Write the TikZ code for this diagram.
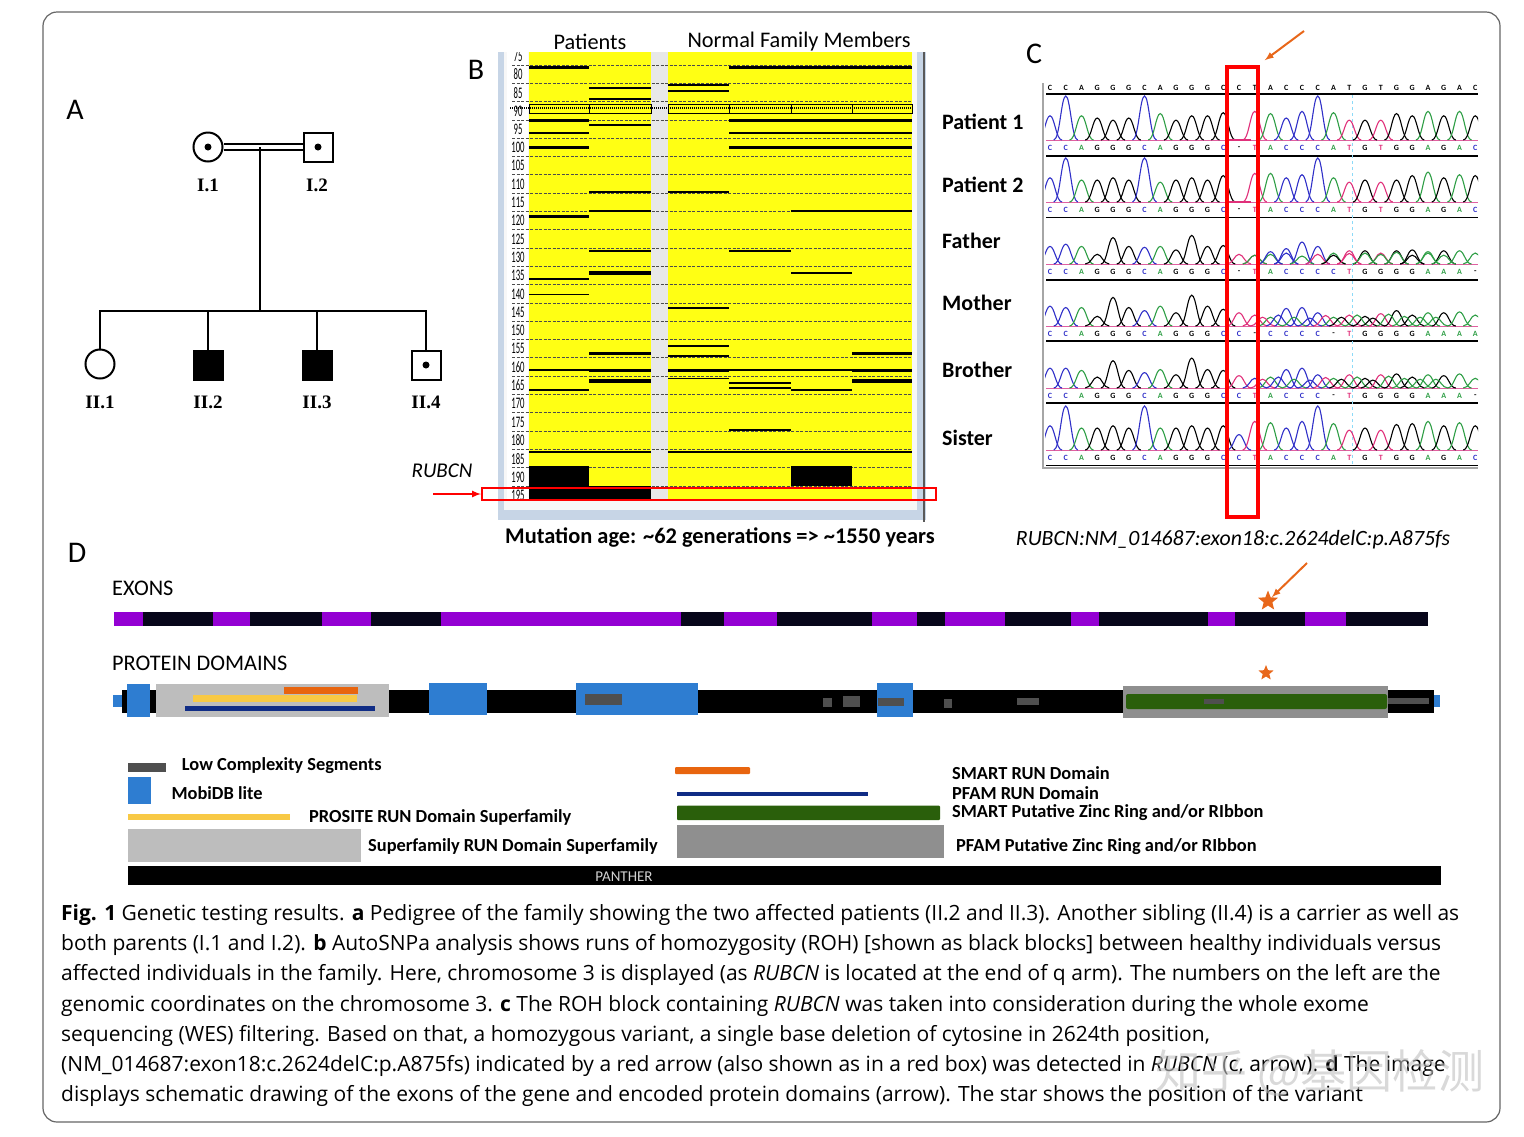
\documentclass[tikz,border=0pt]{standalone}
\usepackage{fontspec}
\setmainfont{Open Sans}
\newfontfamily\calfont{Carlito}
\newfontfamily\pedfont{Liberation Serif}
\newfontfamily\cjkfont{Noto Sans CJK SC}
\usetikzlibrary{shapes.geometric}

\definecolor{exonpurple}{HTML}{9400D3}
\definecolor{exondark}{HTML}{07061A}
\definecolor{mobiblue}{HTML}{2E7DD1}
\definecolor{superlight}{HTML}{BDBDBD}
\definecolor{pfamgray}{HTML}{8F8F8F}
\definecolor{zincgreen}{HTML}{2A5F0B}
\definecolor{lowgray}{HTML}{4F4F4F}
\definecolor{prositeyellow}{HTML}{F8C945}
\definecolor{pfamnavy}{HTML}{102C85}
\definecolor{smartorange}{HTML}{E8650F}
\definecolor{starorange}{HTML}{E8671A}
\definecolor{rohyellow}{HTML}{FFFF14}
\definecolor{frameblue}{HTML}{C7D5E6}
\definecolor{traceC}{HTML}{3030C8}
\definecolor{traceA}{HTML}{2E9E45}
\definecolor{traceT}{HTML}{E0307A}
\definecolor{tracebase}{HTML}{E060A0}

% coloured base letters of the chromatogram
\newcommand{\bsC}{\textcolor{traceC}{C}}
\newcommand{\bsA}{\textcolor{traceA}{A}}
\newcommand{\bsG}{\textcolor{black}{G}}
\newcommand{\bsT}{\textcolor{traceT}{T}}
\expandafter\newcommand\csname bs-\endcsname{-}

% one chromatogram trace: baseline, first x, list of base/height
\newcommand{\peaks}[3]{%
  \foreach \b/\h [count=\i from 0] in {#3} {
    \pgfmathsetmacro{\px}{#2+\i*15.75}
    \pgfmathsetmacro{\py}{#1-\h*44}
    \draw[trace,t\b] (\px-12,#1) .. controls (\px-6,#1) and (\px-4.5,\py) .. (\px,\py)
      .. controls (\px+4.5,\py) and (\px+6,#1) .. (\px+12,#1);
  }}
% one row of called bases: y, name prefix, list
\newcommand{\bases}[3]{%
  \foreach \b [count=\i from 0] in {#3}
    \node[base] (#2\i) at ({1050+\i*15.75},#1) {\csname bs\b\endcsname};}

\begin{document}
\begin{tikzpicture}[x=1pt, y=-1pt,
  person/.style={draw, line width=2pt, minimum size=29pt, inner sep=0pt},
  female/.style={person, circle},
  male/.style={person, rectangle},
  affected/.style={fill=black},
  pedlabel/.style={font=\pedfont\bfseries\fontsize{19}{19}\selectfont},
  panel/.style={font=\calfont\fontsize{30}{30}\selectfont},
  head/.style={font=\calfont\fontsize{22.3}{22.3}\selectfont},
  who/.style={anchor=west, inner sep=0pt, font=\calfont\bfseries\fontsize{22}{22}\selectfont},
  ytick/.style={inner sep=0pt, font=\calfont\fontsize{14}{14}\selectfont},
  base/.style={inner sep=0pt, font=\calfont\bfseries\fontsize{8}{8}\selectfont},
  trace/.style={line width=1.1pt},
  tC/.style={draw=traceC}, tA/.style={draw=traceA},
  tG/.style={draw=black}, tT/.style={draw=traceT},
  legend/.style={anchor=west, inner sep=0pt, font=\calfont\bfseries\fontsize{18.4}{18.4}\selectfont},
  capline/.style={anchor=base west, inner sep=0pt, font=\fontsize{21}{24}\selectfont}]
\useasboundingbox (0,0) rectangle (1524,1136);
\draw[rounded corners=14pt, gray!80!black, line width=1.2pt] (43,12) rectangle (1500,1122);

% ---- A: pedigree
\node[panel] (pA) at (75,110) {A};
\node[female] (i1) at (208,147) {};
\node[male] (i2) at (318,147) {};
\fill (i1) circle (3.5); \fill (i2) circle (3.5);
\draw[line width=2pt, double, double distance=3.5pt] (i1) -- (i2);
\coordinate (mate) at (260,147);
\coordinate (sib) at (260,311);
\draw[line width=2pt] (mate) -- (sib);
\node[female] (ii1) at (100,364) {};
\node[male, affected] (ii2) at (208,365) {};
\node[male, affected] (ii3) at (317,365) {};
\node[male] (ii4) at (426,365) {};
\fill (ii4) circle (3.5);
\foreach \c in {ii1,ii2,ii3,ii4}
  \draw[line width=2pt] (sib) -| (\c);
\foreach \c/\t/\x/\y in {i1/I.1/208/185, i2/I.2/317/185, ii1/II.1/100/402,
    ii2/II.2/208/402, ii3/II.3/317/402, ii4/II.4/426/402}
  \node[pedlabel] (lab-\c) at (\x,\y) {\t};

% ---- B: runs of homozygosity
\node[panel] (pB) at (476,70) {B};
\node[head] (hpat) at (590,42) {Patients};
\node[head] (hnorm) at (799,42) {Normal Family Members};
\begin{scope}
  \clip (498,52) rectangle (940,525);
  \fill[frameblue] (498,52) rectangle (926,520);
  \fill[gray!6] (504,52) rectangle (917,510);
  \fill[white] (507,52) rectangle (528,501);
  \fill[rohyellow] (529,52) rectangle (651,501);
  \fill[gray!18] (651,52) rectangle (668,501);
  \fill[rohyellow] (668,52) rectangle (912,501);
  \foreach \n [count=\k from 0] in {75,80,...,195}
    \node[ytick] (num\n) at (518,{56+18.3*\k}) {\scalebox{.62}[1.15]{\n}};
  \foreach \k in {0,...,23}
    \draw[gray!60!black, line width=.7pt, dash pattern=on 3pt off 1.5pt]
      (512,{65+18.3*\k}) -- (912,{65+18.3*\k});
  \foreach \a/\b in {529/589,589/651,668/729,729/791,791/852,852/912}
    \draw[line width=1pt] (\a,113) rectangle (\b,104);
  \draw[line width=2pt, dash pattern=on 1pt off 1pt] (510,108) -- (912,108);
  \foreach \a/\b/\y/\w in {529/589/67.6/3, 729/912/67.6/3, 589/651/88/2,
      589/651/99/2.5, 668/729/85/2, 668/729/91/2, 529/589/120/3, 729/912/120/3,
      589/651/125/2, 529/589/133/1.5, 729/912/133/1.5, 529/589/147/3,
      729/912/147/3, 589/651/192/2.5, 668/729/192/2.5, 589/651/211/1.5,
      791/912/211/1.5, 529/589/216.5/3.5, 589/651/251/2.5, 729/791/251/2.5,
      589/651/273/3.5, 791/852/273/1.5, 529/589/279/1.5, 529/589/294.5/1.5,
      668/729/308/1.5, 668/729/346/1.5, 668/729/356/1.5, 589/651/353/3,
      852/912/353/3, 529/589/370/1.5, 589/651/370/3, 668/729/370/3,
      729/852/370/1.5, 852/912/370/3, 668/729/378.6/1.5, 589/651/381/3.5,
      852/912/381/3.5, 729/791/383/1.5, 729/791/388/1.5, 529/589/390/1.5,
      791/852/390/1.5, 729/791/430/1.5, 529/651/452/1.5, 668/912/452/1.5}
    \draw[line width=\w pt] (\a,\y) -- (\b,\y);
  \fill (529,466) rectangle (589,501);
  \fill (589,486) rectangle (651,501);
  \fill (791,466) rectangle (852,486);
  \draw[gray!70!black, line width=1.2pt] (924,52) -- (924,522);
\end{scope}
\node[draw=red, line width=2pt, minimum width=454pt, minimum height=12pt,
  inner sep=0pt] (rohbox) at (709,494) {};
\node[font=\calfont\itshape\fontsize{21}{21}\selectfont] (rubcn) at (442,471) {RUBCN};
\coordinate (rubtail) at (433,494);
\draw[red, line width=2pt, -latex] (rubtail) -- (rohbox.west);
\node[font=\calfont\bfseries\fontsize{22.4}{22.4}\selectfont] (mutage) at (720,538)
  {Mutation age: \textasciitilde62 generations => \textasciitilde1550 years};

% ---- C: chromatograms
\node[panel] (pC) at (1034,54) {C};
\foreach \t/\y [count=\k] in {Patient 1/122, Patient 2/185, Father/241,
    Mother/303, Brother/370, Sister/438}
  \node[who] (who\k) at (942,\y) {\t};
\draw[gray!70, line width=2pt] (1043,83) |- (1478,468);
\foreach \y in {94,156,217.7,280,341,403,465.5}
  \draw[line width=1.5pt] (1046,\y) -- (1478,\y);
\foreach \y in {140,202,264,326,388,450}
  \draw[tracebase, line width=1pt] (1046,\y) -- (1478,\y);
\draw[cyan!45, dashed, line width=.8pt] (1352.5,95) -- (1352.5,465);
\begin{scope}
  \clip (1045,80) rectangle (1478,470);
  \peaks{140}{1050}{C/.55,C/1,A/.55,G/.5,G/.45,G/.5,C/1,A/.6,G/.45,G/.55,G/.55,G/.62,T/0,T/.65,A/.6,C/.5,C/.65,C/1,A/.62,T/.45,G/.45,T/.45,G/.6,G/.55,A/.65,G/.55,A/.65,G/.55}
  \peaks{202}{1050}{C/.55,C/1,A/.5,G/.5,G/.55,G/.5,C/1,A/.45,G/.5,G/.55,G/.5,G/.6,T/0,T/.65,A/.65,C/.55,C/.62,C/1,A/.55,T/.45,G/.5,T/.45,G/.5,G/.6,A/.68,G/.55,A/.62,G/.6}
  \peaks{264}{1050}{C/.4,C/.45,A/.4,G/.22,G/.6,G/.4,C/.38,A/.4,G/.32,G/.65,G/.4,G/.42,T/.22,T/.2,A/.22,C/.35,C/.5,C/.4,A/.25,T/.3,G/.3,T/.25,G/.3,G/.32,A/.28,G/.3,A/.3,A/.25}
  \peaks{264}{1254.75}{A/.2,C/.28,C/.25,A/.18,T/.22,G/.2,T/.24,A/.25,A/.22,A/.27,G/.2,A/.25,A/.2}
  \peaks{326}{1050}{C/.45,C/.42,A/.42,G/.22,G/.65,G/.42,C/.35,A/.45,G/.3,G/.7,G/.45,G/.38,T/.3,T/.25,A/.2,C/.4,C/.42,C/.3,A/.2,T/.25,G/.22,T/.28,G/.35,G/.25,A/.3,G/.3,A/.32,A/.25}
  \peaks{326}{1262.6}{T/.2,C/.25,A/.2,C/.18,T/.24,G/.2,A/.25,G/.18,A/.27,A/.22,A/.2,A/.2}
  \peaks{388}{1050}{C/.45,C/.45,A/.4,G/.25,G/.62,G/.4,C/.35,A/.42,G/.3,G/.68,G/.42,G/.4,T/.28,C/.22,A/.25,C/.42,C/.45,C/.3,A/.22,T/.3,G/.22,T/.3,G/.32,G/.25,A/.3,G/.28,A/.32,A/.22}
  \peaks{388}{1262.6}{T/.2,C/.25,A/.2,C/.18,T/.24,G/.2,A/.25,G/.18,A/.27,A/.22,A/.2,A/.2}
  \peaks{450}{1050}{C/.55,C/1,A/.5,G/.5,G/.55,G/.5,C/1,A/.5,G/.5,G/.55,G/.5,G/.55,C/.35,T/.65,A/.62,C/.5,C/.65,C/1,A/.6,T/.45,G/.5,T/.45,G/.58,G/.6,A/.65,G/.55,A/.62,G/.55}
  \foreach \b [count=\i from 0] in {C,C,A,G,G,G,C,A,G,G,G,C,C,T,A,C,C,C,A,T,G,T,G,G,A,G,A,C}
    \node[base] (ref\i) at ({1050+\i*15.75},88) {\b};
  \bases{148}{pa}{C,C,A,G,G,G,C,A,G,G,G,C,-,T,A,C,C,C,A,T,G,T,G,G,A,G,A,C}
  \bases{210}{pb}{C,C,A,G,G,G,C,A,G,G,G,C,-,T,A,C,C,C,A,T,G,T,G,G,A,G,A,C}
  \bases{272}{fa}{C,C,A,G,G,G,C,A,G,G,G,C,-,T,A,C,C,C,C,T,G,G,G,G,A,A,A,-}
  \bases{334}{mo}{C,C,A,G,G,G,C,A,G,G,G,C,C,-,C,C,C,C,-,T,G,G,G,G,A,A,A,A}
  \bases{396}{br}{C,C,A,G,G,G,C,A,G,G,G,C,C,T,A,C,C,C,-,T,G,G,G,G,A,A,A,-}
  \bases{458}{si}{C,C,A,G,G,G,C,A,G,G,G,C,C,T,A,C,C,C,A,T,G,T,G,G,A,G,A,C}
\end{scope}
\node[draw=red, line width=3.5pt, minimum width=31pt, minimum height=450pt,
  inner sep=0pt] (delbox) at (1242.5,292) {};
\coordinate (ctail) at (1304,31);
\draw[starorange, line width=2pt, -latex] (ctail) -- ([shift={(5,-5)}]delbox.north east);
\node[font=\calfont\itshape\fontsize{21.8}{21.8}\selectfont] (variant) at (1233,540)
  {RUBCN:NM\_014687:exon18:c.2624delC:p.A875fs};

% ---- D: exons and protein domains
\node[panel] (pD) at (77,553) {D};
\node[head, anchor=west, inner sep=0pt] (exons) at (112,588) {EXONS};
\fill[exonpurple] (114,612) rectangle (1428,626);
\foreach \a/\b in {142.6/212.8, 250.4/322.4, 370.6/440.7, 680.6/724.2,
    777.4/871.5, 917.3/944.9, 1005.4/1070.6, 1099.4/1208, 1234.8/1305, 1345.8/1428.3}
  \fill[exondark] (\a,612) rectangle (\b,626);
\node[star, star points=5, star point ratio=2.3, fill=starorange, minimum size=21pt,
  inner sep=0pt] (star1) at (1268,601) {};
\coordinate (dtail) at (1307,563);
\draw[starorange, line width=2pt, -latex] (dtail) -- (star1.north east);
\node[head, anchor=west, inner sep=0pt] (domains) at (112,663) {PROTEIN DOMAINS};
\fill[mobiblue] (113,695) rectangle (122,707);
\fill (122,690) rectangle (1434,713);
\fill[mobiblue] (1434,695) rectangle (1440,707);
\fill[mobiblue] (126.5,684) rectangle (150.4,717);
\fill[superlight] (156,684) rectangle (389,717);
\fill[smartorange] (284,687) rectangle (358,694);
\fill[prositeyellow] (193,695) rectangle (357,702);
\fill[pfamnavy] (185,706) rectangle (375,711);
\fill[mobiblue] (429,683) rectangle (487,715);
\fill[mobiblue] (576,683) rectangle (698,715);
\fill[mobiblue] (877,683) rectangle (913,717);
\fill[pfamgray] (1123,686) rectangle (1388,718);
\fill[zincgreen, rounded corners=2pt] (1126,694) rectangle (1387,709);
\foreach \a/\b/\c/\d in {585/694/622/705, 823/698/832/707, 842.6/696/860/707,
    878/698/903.6/706, 943.5/699/951.7/708, 1017/698/1039/705,
    1204/699/1224/704, 1388/698/1429/704}
  \fill[lowgray] (\a,\b) rectangle (\c,\d);
\node[star, star points=5, star point ratio=2.3, fill=starorange, minimum size=16pt,
  inner sep=0pt] (star2) at (1266,673) {};

% legend
\fill[lowgray] (127.7,762.7) rectangle (165.6,772.3);
\fill[mobiblue] (127.7,777) rectangle (151.3,804);
\fill[prositeyellow] (127.7,814) rectangle (289.7,820);
\fill[superlight] (127.7,829) rectangle (361,861.7);
\fill[smartorange, rounded corners=1pt] (675,767) rectangle (750,774);
\fill[pfamnavy] (677,792) rectangle (868,796);
\fill[zincgreen, rounded corners=1pt] (677,805.7) rectangle (940,820);
\fill[pfamgray] (677,825) rectangle (943.7,857.7);
\fill (127.7,866) rectangle (1440.6,885);
\node[legend] (lg1) at (181.7,766) {Low Complexity Segments};
\node[legend] (lg2) at (171.4,793) {MobiDB lite};
\node[legend] (lg3) at (309,817) {PROSITE RUN Domain Superfamily};
\node[legend] (lg4) at (368,846.7) {Superfamily RUN Domain Superfamily};
\node[legend] (lg5) at (952,773) {SMART RUN Domain};
\node[legend] (lg6) at (952,792.7) {PFAM RUN Domain};
\node[legend] (lg7) at (952,812.7) {SMART Putative Zinc Ring and/or RIbbon};
\node[legend] (lg8) at (956,846.7) {PFAM Putative Zinc Ring and/or RIbbon};
\node[text=gray!35, font=\calfont\fontsize{15}{15}\selectfont] (panther) at (624,876.5) {PANTHER};

% ---- caption
\node[capline] (cap1) at (61,920) {\textbf{Fig. 1} Genetic testing results. \textbf{a} Pedigree of the family showing the two affected patients (II.2 and II.3). Another sibling (II.4) is a carrier as well as};
\node[capline] (cap2) at (61,950.3) {both parents (I.1 and I.2). \textbf{b} AutoSNPa analysis shows runs of homozygosity (ROH) [shown as black blocks] between healthy individuals versus};
\node[capline] (cap3) at (61,980.6) {affected individuals in the family. Here, chromosome 3 is displayed (as \textit{RUBCN} is located at the end of q arm). The numbers on the left are the};
\node[capline] (cap4) at (61,1011) {genomic coordinates on the chromosome 3. \textbf{c} The ROH block containing \textit{RUBCN} was taken into consideration during the whole exome};
\node[capline] (cap5) at (61,1041.2) {sequencing (WES) filtering. Based on that, a homozygous variant, a single base deletion of cytosine in 2624th position,};
\node[capline] (cap6) at (61,1071.5) {(NM\_014687:exon18:c.2624delC:p.A875fs) indicated by a red arrow (also shown as in a red box) was detected in \textit{RUBCN} (c, arrow). \textbf{d} The image};
\node[capline] (cap7) at (61,1101.8) {displays schematic drawing of the exons of the gene and encoded protein domains (arrow). The star shows the position of the variant};
\node[text=gray!50, opacity=.6, font=\cjkfont\fontsize{46}{46}\selectfont] (wm) at (1320,1073) {知乎 @基因检测};
\end{tikzpicture}
\end{document}
